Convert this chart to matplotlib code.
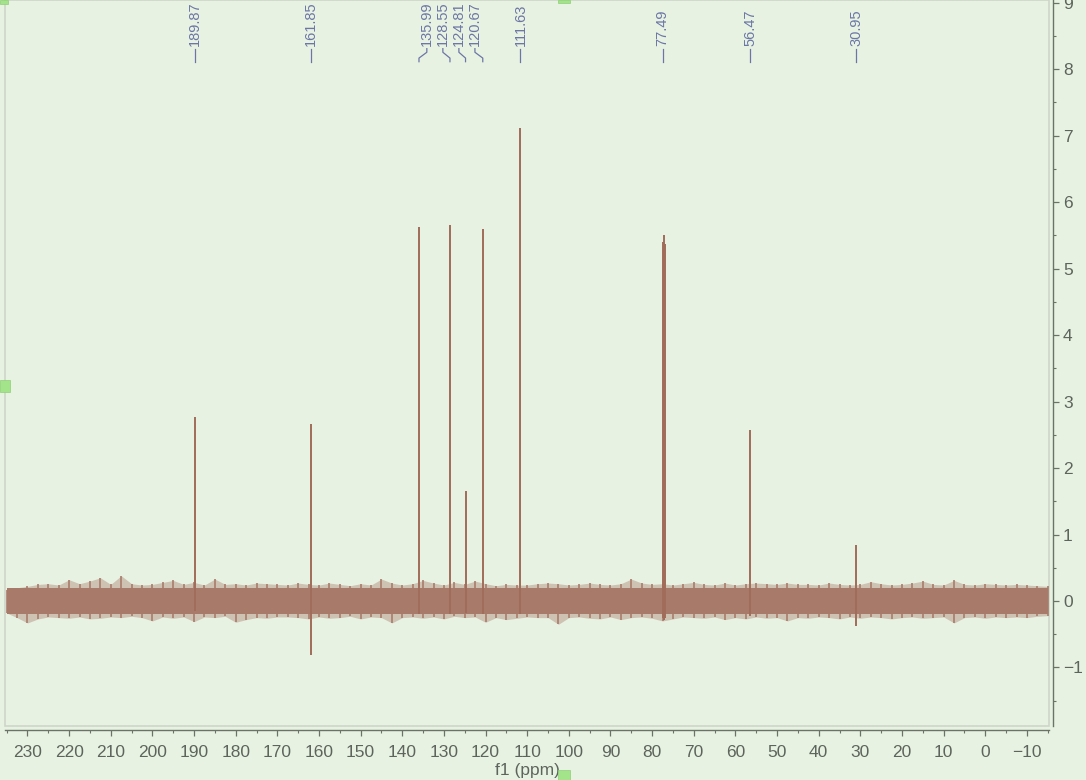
import matplotlib.pyplot as plt
import matplotlib as m
from matplotlib.patches import Rectangle
from matplotlib.ticker import MultipleLocator
import matplotlib.transforms as mtransforms

m.rcParams['font.family'] = ['Liberation Sans', 'DejaVu Sans']
m.rcParams['font.size'] = 12.5

# peaks (ppm, height, negative dip)
peak_ppm = [189.87, 161.85, 135.99, 128.55, 124.81, 120.67, 111.63, 77.49, 77.17, 76.84, 56.47, 30.95]
peak_height = [2.77, 2.66, 5.63, 5.65, 1.65, 5.59, 7.12, 5.40, 5.51, 5.37, 2.57, 0.84]
peak_dip = [-0.15, -0.81, -0.20, -0.20, -0.18, -0.20, -0.20, -0.25, -0.28, -0.25, -0.22, -0.38]
label_ppm = [189.87, 161.85, 135.99, 128.55, 124.81, 120.67, 111.63, 77.49, 56.47, 30.95]

# baseline noise envelope, read every 2.5 ppm from 235 down to -15
noise_ppm = [235 - 2.5 * i for i in range(101)]
noise_hi = [0.16, 0.20, 0.22, 0.25, 0.26, 0.24, 0.32, 0.26, 0.30, 0.35, 0.25, 0.38, 0.26, 0.24,
            0.25, 0.28, 0.31, 0.25, 0.28, 0.24, 0.33, 0.25, 0.26, 0.24, 0.27, 0.26, 0.25,
            0.24, 0.27, 0.25, 0.24, 0.27, 0.25, 0.23, 0.26, 0.24, 0.33, 0.27, 0.24, 0.26,
            0.31, 0.27, 0.24, 0.28, 0.25, 0.30, 0.26, 0.23, 0.25, 0.24, 0.24, 0.26,
            0.27, 0.26, 0.24, 0.25, 0.27, 0.25, 0.24, 0.26, 0.33, 0.27, 0.25, 0.26, 0.24,
            0.26, 0.28, 0.25, 0.24, 0.27, 0.24, 0.26, 0.27, 0.26, 0.25, 0.27, 0.25,
            0.25, 0.24, 0.27, 0.25, 0.24, 0.25, 0.29, 0.26, 0.24, 0.25, 0.27, 0.30,
            0.25, 0.24, 0.31, 0.25, 0.24, 0.26, 0.25, 0.24, 0.25, 0.24, 0.23, 0.22]
noise_lo = [-0.18, -0.25, -0.33, -0.27, -0.24, -0.25, -0.26, -0.24, -0.27, -0.26, -0.24, -0.25, -0.23, -0.25,
            -0.30, -0.24, -0.26, -0.24, -0.31, -0.24, -0.25, -0.23, -0.32, -0.28, -0.25, -0.26, -0.24,
            -0.24, -0.25, -0.27, -0.24, -0.26, -0.25, -0.23, -0.27, -0.24, -0.25, -0.33, -0.25, -0.24,
            -0.26, -0.24, -0.27, -0.23, -0.25, -0.24, -0.32, -0.25, -0.28, -0.26, -0.24, -0.25,
            -0.25, -0.35, -0.25, -0.24, -0.26, -0.27, -0.24, -0.28, -0.25, -0.24, -0.26, -0.30, -0.27,
            -0.24, -0.25, -0.26, -0.24, -0.28, -0.25, -0.27, -0.24, -0.26, -0.25, -0.30, -0.25,
            -0.26, -0.24, -0.25, -0.27, -0.24, -0.26, -0.24, -0.25, -0.27, -0.25, -0.24, -0.26,
            -0.25, -0.24, -0.33, -0.25, -0.24, -0.26, -0.24, -0.25, -0.24, -0.25, -0.23, -0.22]
noise_core = 0.19

bg = '#e8f2e2'
brown = '#a87a6a'
axcol = '#6b7369'
labcol = '#6b76a6'

fig = plt.figure(figsize=(10.86, 7.8), dpi=100, facecolor=bg)
ax = fig.add_axes([5/1086, 54/780, 1044/1086, 726/780])
ax.set_facecolor(bg)

# noise: solid core, lighter fringe, spiky edges
ax.fill_between(noise_ppm, noise_lo, noise_hi, color=brown, alpha=0.4, lw=0)
ax.vlines(noise_ppm, noise_lo, noise_hi, color=brown, lw=1.3, alpha=0.9)
ax.fill_between(noise_ppm, [-noise_core]*len(noise_ppm), [noise_core]*len(noise_ppm), color=brown, lw=0)
ax.vlines(peak_ppm, peak_dip, peak_height, color='#a26c5a', lw=1.4)

ax.set_xlim(235.4, -15.3)
ax.set_ylim(-1.88, 9.04)

# frame box and offset axes
ax.add_patch(Rectangle((0, 0), 1, 1, transform=ax.transAxes, fill=False,
                       edgecolor='#cdd6c8', lw=1.2, clip_on=False))
ax.spines['top'].set_visible(False)
ax.spines['left'].set_visible(False)
for s in ['bottom', 'right']:
    ax.spines[s].set_position(('outward', 3))
    ax.spines[s].set_color(axcol)
    ax.spines[s].set_linewidth(1.0)

ax.yaxis.tick_right()
ax.xaxis.set_major_locator(MultipleLocator(10))
ax.xaxis.set_minor_locator(MultipleLocator(5))
ax.yaxis.set_major_locator(MultipleLocator(1))
ax.yaxis.set_minor_locator(MultipleLocator(0.5))
ax.tick_params(which='major', length=4, width=0.9, color=axcol, labelcolor='#5d645c', labelsize=12.5)
ax.tick_params(which='minor', length=2.2, width=0.8, color=axcol)
ax.tick_params(axis='x', which='major', pad=7)
ax.tick_params(axis='y', which='major', pad=3)
ax.set_xlabel('f1 (ppm)', color='#5d645c', fontsize=12.5, labelpad=1.5)

# peak labels, spread apart where crowded
gap = 3.85
lab = sorted(label_ppm, reverse=True)
groups = [[lab[0]]]
for p in lab[1:]:
    if groups[-1][-1] - p < 2 * gap:
        groups[-1].append(p)
    else:
        groups.append([p])
trans = mtransforms.blended_transform_factory(ax.transData, ax.transAxes)
for g in groups:
    mid = (g[0] + g[-1]) / 2
    n = len(g)
    for i, p in enumerate(g):
        lx = p if n == 1 else mid + gap * ((n - 1) / 2 - i)
        ax.text(lx, 0.937, '%.2f' % p, rotation=90, ha='center', va='bottom',
                fontsize=10.5, color=labcol, transform=trans)
        if n == 1:
            ax.plot([lx, lx], [0.933, 0.915], color=labcol, lw=0.9, transform=trans, clip_on=False)
        else:
            ax.plot([lx, lx, p, p], [0.933, 0.928, 0.92, 0.915], color=labcol, lw=0.9,
                    transform=trans, clip_on=False)

# little green handles from the viewer
for (x0, y0, w, h) in [(0, 388, 10, 12), (558, 777, 12, 3), (558, 0, 12, 10), (0, 776, 8, 4)]:
    fig.patches.append(Rectangle((x0/1086, y0/780), w/1086, h/780, transform=fig.transFigure,
                                 facecolor='#a3e48a', edgecolor='#8fd077', lw=0.5))

fig.savefig('out.png', dpi=100, facecolor=bg)
